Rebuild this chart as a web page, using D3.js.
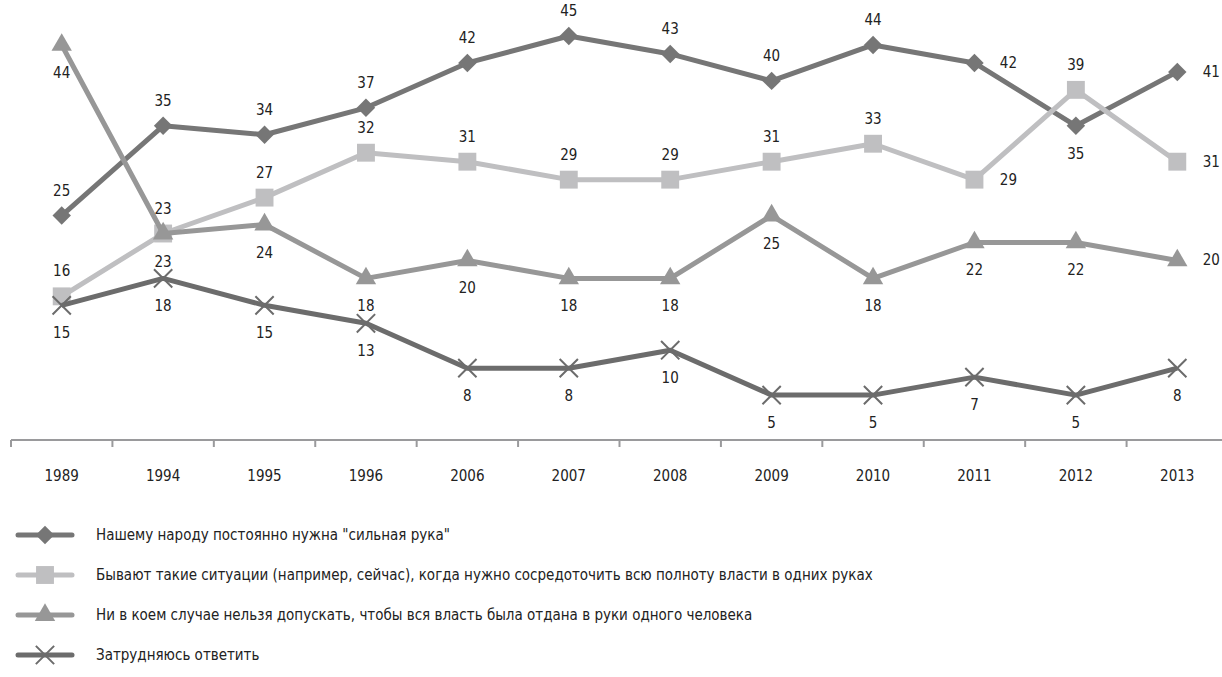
<!DOCTYPE html>
<html>
<head>
<meta charset="utf-8">
<script src="https://cdn.jsdelivr.net/npm/d3@7"></script>
<style>
  body { margin: 0; background: #fff; }
  text { font-family: "Liberation Sans Narrow", "DejaVu Sans Condensed", "Roboto", sans-serif; fill: #222; }
</style>
</head>
<body>
<svg id="svg" width="1222" height="677"></svg>
<script>
var years = ['1989', '1994', '1995', '1996', '2006', '2007', '2008', '2009', '2010', '2011', '2012', '2013'];

var strongHand = [25, 35, 34, 37, 42, 45, 43, 40, 44, 42, 35, 41];
var sometimes = [16, 23, 27, 32, 31, 29, 29, 31, 33, 29, 39, 31];
var never = [44, 23, 24, 18, 20, 18, 18, 25, 18, 22, 22, 20];
var hardToSay = [15, 18, 15, 13, 8, 8, 10, 5, 5, 7, 5, 8];

// where each value label sits: a = above, b = below, r = right
var strongHandPos = ['a', 'a', 'a', 'a', 'a', 'a', 'a', 'a', 'a', 'r', 'b', 'r'];
var sometimesPos = ['a', 'a', 'a', 'a', 'a', 'a', 'a', 'a', 'a', 'r', 'a', 'r'];
var neverPos = ['b', 'b', 'b', 'b', 'b', 'b', 'b', 'b', 'b', 'b', 'b', 'r'];
var hardToSayPos = ['b', 'b', 'b', 'b', 'b', 'b', 'b', 'b', 'b', 'b', 'b', 'b'];

var seriesNames = [
    'Нашему народу постоянно нужна "сильная рука"',
    'Бывают такие ситуации (например, сейчас), когда нужно сосредоточить всю полноту власти в одних руках',
    'Ни в коем случае нельзя допускать, чтобы вся власть была отдана в руки одного человека',
    'Затрудняюсь ответить'
];

var series = [
    { name: seriesNames[0], values: strongHand, pos: strongHandPos, color: '#767676', mark: 'diamond' },
    { name: seriesNames[1], values: sometimes, pos: sometimesPos, color: '#bfbfc1', mark: 'square' },
    { name: seriesNames[2], values: never, pos: neverPos, color: '#979797', mark: 'triangle' },
    { name: seriesNames[3], values: hardToSay, pos: hardToSayPos, color: '#6c6c6c', mark: 'cross' }
];

var svg = d3.select('#svg');
var fontSize = 15;

var scX = d3.scaleBand().domain(years).range([11, 1228]);
var scY = d3.scaleLinear().domain([0, 45]).range([440, 36]);
var cx = function (i) { return scX(years[i]) + scX.bandwidth() / 2; };

// axis
var axisG = svg.append('g');
axisG.append('line')
    .attr('x1', 11).attr('x2', 1222).attr('y1', scY(0)).attr('y2', scY(0))
    .attr('stroke', '#9a9a9c').attr('stroke-width', 2);
axisG.selectAll('.tick').data(years).enter().append('line')
    .attr('x1', d => scX(d)).attr('x2', d => scX(d))
    .attr('y1', scY(0)).attr('y2', scY(0) + 7)
    .attr('stroke', '#9a9a9c').attr('stroke-width', 2);
axisG.selectAll('.yl').data(years).enter().append('text')
    .attr('x', d => scX(d) + scX.bandwidth() / 2)
    .attr('y', scY(0) + 36)
    .attr('text-anchor', 'middle')
    .attr('dominant-baseline', 'central')
    .attr('font-size', fontSize)
    .text(d => d);

function markPath(mark) {
    if (mark === 'diamond') return d3.symbol().type(d3.symbolSquare).size(170)();
    if (mark === 'square') return d3.symbol().type(d3.symbolSquare).size(320)();
    if (mark === 'triangle') return d3.symbol().type(d3.symbolTriangle).size(180)();
    return d3.symbol().type(d3.symbolTimes).size(220)();
}

function drawMark(g, s, x, y) {
    var p = g.append('path')
        .attr('d', markPath(s.mark))
        .attr('transform', 'translate(' + x + ',' + y + ')' + (s.mark === 'diamond' ? ' rotate(45)' : ''));
    if (s.mark === 'cross') {
        p.attr('fill', 'none').attr('stroke', s.color).attr('stroke-width', 2);
    } else {
        p.attr('fill', s.color);
    }
}

var line = d3.line().x((d, i) => cx(i)).y(d => scY(d));

series.forEach(function (s) {
    var g = svg.append('g');
    g.append('path')
        .attr('d', line(s.values))
        .attr('fill', 'none')
        .attr('stroke', s.color)
        .attr('stroke-width', 5)
        .attr('stroke-linejoin', 'round');
    s.values.forEach(function (v, i) {
        drawMark(g, s, cx(i), scY(v));
    });
});

// value labels on top
series.forEach(function (s) {
    svg.append('g').selectAll('text').data(s.values).enter().append('text')
        .attr('x', (d, i) => s.pos[i] === 'r' ? cx(i) + 34 : cx(i))
        .attr('y', (d, i) => s.pos[i] === 'a' ? scY(d) - 25 : s.pos[i] === 'b' ? scY(d) + 28 : scY(d))
        .attr('text-anchor', 'middle')
        .attr('dominant-baseline', 'central')
        .attr('font-size', fontSize)
        .text(d => d);
});

// legend
var legend = svg.append('g');
series.forEach(function (s, i) {
    var y = 535 + i * 40;
    legend.append('line')
        .attr('x1', 18).attr('x2', 72).attr('y1', y).attr('y2', y)
        .attr('stroke', s.color).attr('stroke-width', 5).attr('stroke-linecap', 'round');
    drawMark(legend, s, 45, y);
    legend.append('text')
        .attr('x', 96).attr('y', y)
        .attr('dominant-baseline', 'central')
        .attr('font-size', fontSize)
        .text(s.name);
});
</script>
</body>
</html>
